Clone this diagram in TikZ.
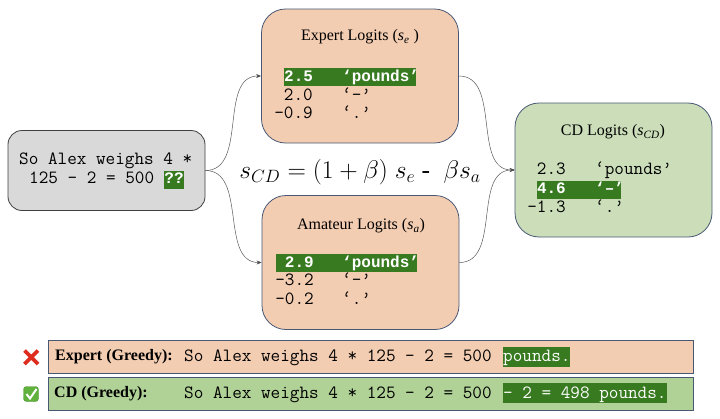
\documentclass[tikz,border=0pt]{standalone}
\usepackage{fix-cm}
\usepackage{fontspec}
\setmainfont{Liberation Serif}
\newfontfamily\boldmono{Liberation Mono}
\usepackage{xcolor}
\usetikzlibrary{arrows.meta}
\definecolor{mpeach}{RGB}{243,205,178}
\definecolor{mgrey}{RGB}{217,217,217}
\definecolor{mmint}{RGB}{203,222,185}
\definecolor{mleaf}{RGB}{176,210,150}
\definecolor{mforest}{RGB}{55,122,31}
\definecolor{mslate}{RGB}{72,88,116}
\definecolor{mred}{RGB}{222,44,30}
\definecolor{mtick}{RGB}{96,178,60}
\newcommand{\scoresym}[1]{\textit{s}\textsubscript{\textit{#1}}}
\begin{document}
\begin{tikzpicture}[x=1pt,y=-1pt]
  \tikzset{logit box/.style={draw=mslate,rounded corners=24pt,fill=#1,line width=.8pt,minimum width=197pt,minimum height=134pt},
    input box/.style={draw=black!75,rounded corners=14pt,fill=mgrey,line width=.8pt,minimum width=197pt,minimum height=80pt},
    result bar/.style={draw=mslate,fill=#1,line width=1pt,minimum width=645pt,minimum height=33pt},
    title/.style={font=\fontsize{16}{16}\selectfont},
    mono/.style={font=\fontsize{18.66}{19}\ttfamily,inner sep=0pt,text height=11pt,text depth=3pt},
    strong/.style={mono,font=\fontsize{16}{19}\boldmono\bfseries,text=white},
    fresh/.style={mono,text=white},
    tag/.style={font=\fontsize{16}{16}\bfseries,inner sep=0pt,anchor=west},
    highlight/.style={fill=mforest,inner sep=0pt,minimum height=#1},
    link/.style={draw=black!65,line width=.5pt,-{Stealth[length=5pt,width=4pt,fill=black]}}}
  \useasboundingbox (0,0) rectangle (720,418);

  \node [input box] (input) at (106.5,170.5) {};
  \node [highlight=18pt, minimum width=20pt] (qmark) at (174,180) {};
  \node [mono, anchor=west] (line1) at (19,160) {So Alex weighs 4 *};
  \node [mono, anchor=west] (line2) at (29,179) {125 – 2 = 500};
  \node [strong] (qtext) at (174,179) {??};

  \node [logit box=mpeach] (expert) at (360,76) {};
  \node [title] (experttitle) at (360,37) {Expert Logits (\scoresym{e} )};
  \node [highlight=18pt, minimum width=132pt] (experthl) at (350,77) {};
  \node [strong, anchor=west] (expertval) at (284,77) {2.5};
  \node [strong, anchor=west] (experttok) at (342,77) {‘pounds’};
  \foreach \val/\tok/\yy in {2.0/‘–’/96, –0.9/‘.’/114}{
    \node [mono, anchor=east] (expertval\yy) at (313,\yy) {\val};
    \node [mono, anchor=west] (experttok\yy) at (342,\yy) {\tok};
  }

  \node [logit box=mpeach] (amateur) at (360.5,262.5) {};
  \node [title] (amateurtitle) at (361,226) {Amateur Logits (\scoresym{a})};
  \node [highlight=18pt, minimum width=141pt] (amateurhl) at (346,263) {};
  \node [strong, anchor=east] (amateurval) at (314,263) {2.9};
  \node [strong, anchor=west] (amateurtok) at (342,263) {‘pounds’};
  \foreach \val/\tok/\yy in {–3.2/‘–’/281, –0.2/‘.’/300}{
    \node [mono, anchor=east] (amateurval\yy) at (314,\yy) {\val};
    \node [mono, anchor=west] (amateurtok\yy) at (342,\yy) {\tok};
  }

  \node [logit box=mmint] (cd) at (613.5,170) {};
  \node [title] (cdtitle) at (613,132) {CD Logits (\scoresym{CD})};
  \node [mono, anchor=east] (cdval1) at (566,170) {2.3};
  \node [mono, anchor=west] (cdtok1) at (595,170) {‘pounds’};
  \node [highlight=18pt, minimum width=84pt] (cdhl) at (579,190) {};
  \node [strong, anchor=east] (cdval2) at (566,189) {4.6};
  \node [strong, anchor=west] (cdtok2) at (595,189) {‘–’};
  \node [mono, anchor=east] (cdval3) at (566,208) {–1.3};
  \node [mono, anchor=west] (cdtok3) at (595,208) {‘.’};

  \node [font=\fontsize{25.5}{26}\selectfont] (formula) at (360,172) {$s_{CD} = (1 + \beta)\; s_e$ - $\;\beta s_a$};

  \draw [link] (input.east) to[out=0,in=180] (expert.west);
  \draw [link] (input.east) to[out=0,in=180] (amateur.west);
  \draw [link] (expert.east) to[out=0,in=180] (cd.west);
  \draw [link] (amateur.east) to[out=0,in=180] (cd.west);

  \node [result bar=mpeach] (expertbar) at (371,356.5) {};
  \node [tag] (experttag) at (55,356.5) {Expert (Greedy):};
  \node [mono, anchor=west] (expertout) at (184,357) {So Alex weighs 4 * 125 – 2 = 500};
  \node [highlight=20pt, minimum width=67pt] (expertouthl) at (536.5,357) {};
  \node [fresh, anchor=west] (expertnew) at (503,357) {pounds.};

  \node [result bar=mleaf] (cdbar) at (371,393.5) {};
  \node [tag] (cdtag) at (54,393.5) {CD (Greedy):};
  \node [mono, anchor=west] (cdout) at (184,394) {So Alex weighs 4 * 125 – 2 = 500};
  \node [highlight=20pt, minimum width=164pt] (cdouthl) at (585,393) {};
  \node [fresh, anchor=west] (cdnew) at (503,394) {– 2 = 498 pounds.};

  \draw [mred, line width=3.6pt] (24.5,350.5) -- (38,364) (38,350.5) -- (24.5,364);
  \node [draw=mtick!85!black, fill=mtick, rounded corners=3pt, minimum size=15pt, inner sep=0pt] (tickbox) at (31,394) {};
  \draw [white, line width=2pt] (26.5,394) -- (30,398.5) -- (36.5,389);
\end{tikzpicture}
\end{document}
